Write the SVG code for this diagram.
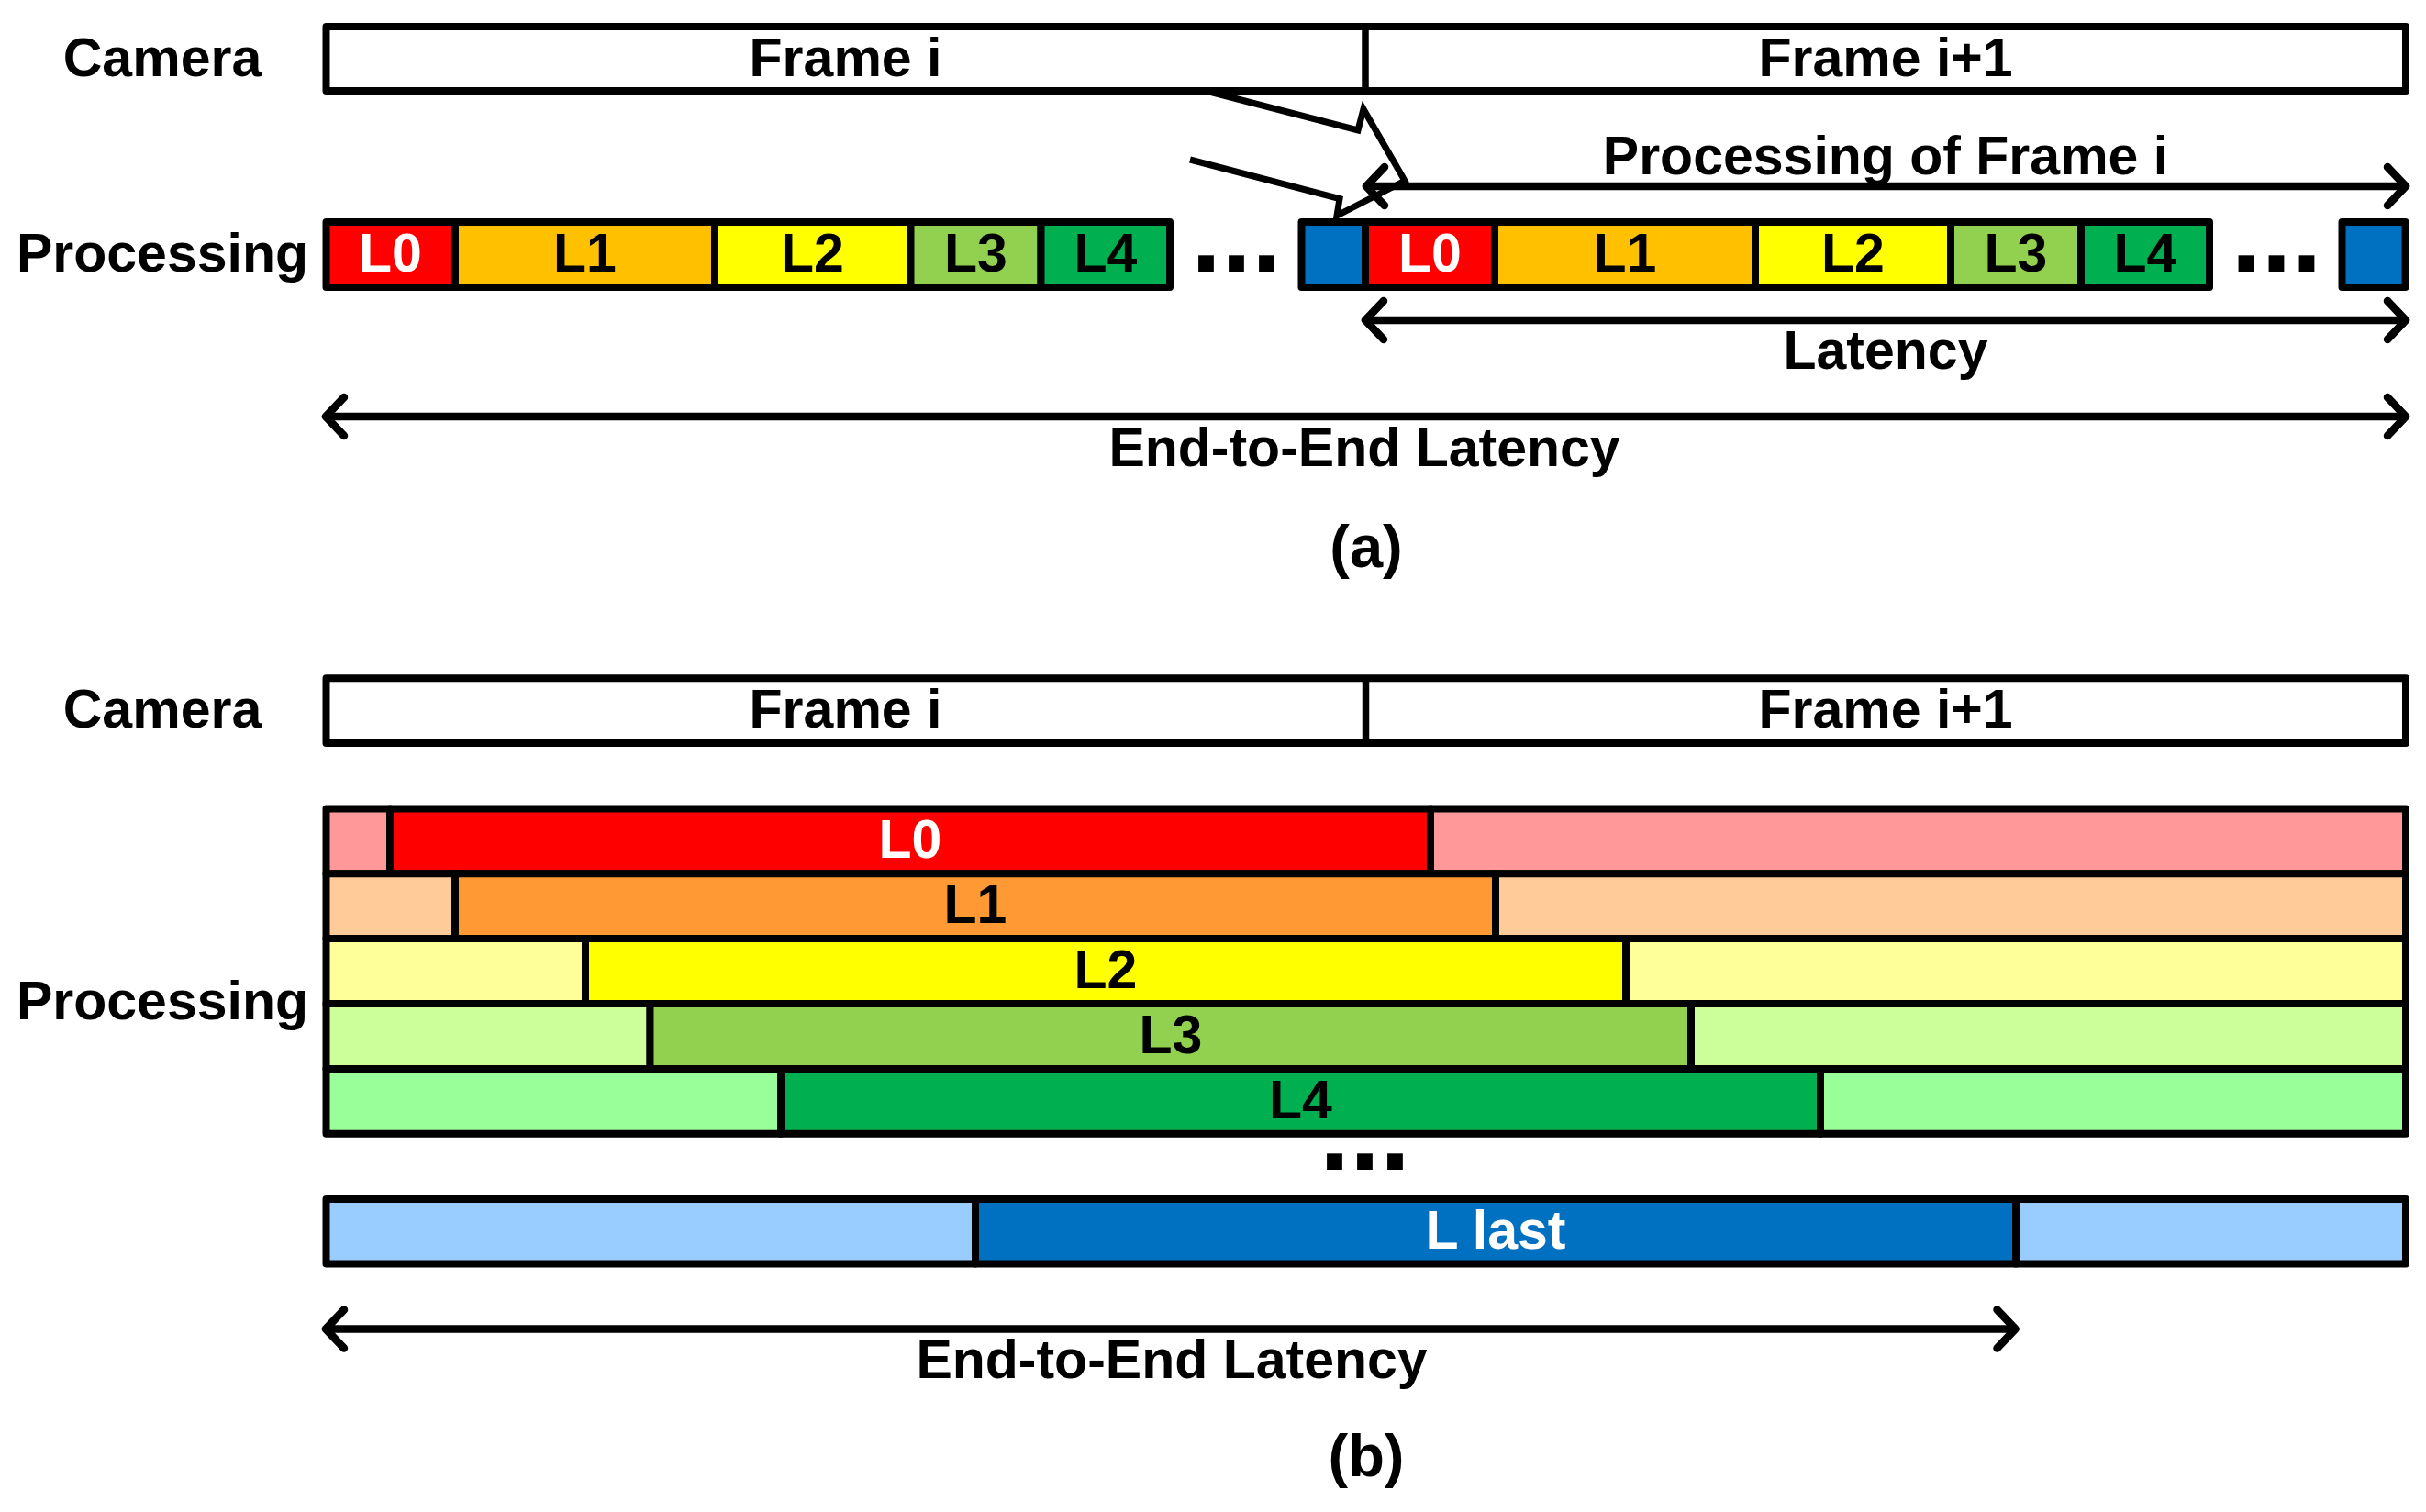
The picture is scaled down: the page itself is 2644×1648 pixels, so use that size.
<svg xmlns="http://www.w3.org/2000/svg" width="2644" height="1648" viewBox="0 0 2644 1648">
<style>
text{font-family:"Liberation Sans",Arial,sans-serif;font-weight:bold;font-size:59px;fill:#000;text-anchor:middle}
.w{fill:#fff}
.dots{font-size:119px}
.cap{font-size:65px}
.c{stroke:#000;stroke-width:8;stroke-linejoin:round}
.dv{stroke:#000;stroke-width:7.5}
.arr{fill:none;stroke:#000;stroke-width:8.5;marker-start:url(#ah);marker-end:url(#ah)}
.bolt{fill:none;stroke:#000;stroke-width:7;stroke-linejoin:miter;stroke-miterlimit:10}
</style>
<defs>
<marker id="ah" markerUnits="userSpaceOnUse" orient="auto-start-reverse" viewBox="-40 -40 50 80" refX="0" refY="0" markerWidth="50" markerHeight="80">
<path d="M-20,-21 L0,0 L-20,21" fill="none" stroke="#000" stroke-width="8.5" stroke-linecap="round" stroke-linejoin="round"/>
</marker>
</defs>
<rect width="2644" height="1648" fill="#fff"/>

<!-- (a) -->
<g id="a-camera-label"><text x="177" y="83">Camera</text></g>
<g id="a-camera">
<rect class="c" x="355.5" y="29" width="2266.5" height="70" fill="#fff"/>
<line class="dv" x1="1488" y1="29" x2="1488" y2="99"/>
<text x="921.5" y="83">Frame i</text>
<text x="2055" y="83">Frame i+1</text>
</g>
<g id="a-processing-label"><text x="177" y="296">Processing</text></g>
<g id="a-proc-1">
<rect class="c" x="355.5" y="242" width="140.5" height="71" fill="#FF0000"/>
<rect class="c" x="496" y="242" width="283" height="71" fill="#FFC000"/>
<rect class="c" x="779" y="242" width="213.5" height="71" fill="#FFFF00"/>
<rect class="c" x="992.5" y="242" width="142" height="71" fill="#92D050"/>
<rect class="c" x="1134.5" y="242" width="140.5" height="71" fill="#00B050"/>
<text class="w" x="425.5" y="296">L0</text>
<text x="637.5" y="296">L1</text>
<text x="885.5" y="296">L2</text>
<text x="1063.5" y="296">L3</text>
<text x="1205" y="296">L4</text>
</g>
<g id="a-dots-1"><text class="dots" x="1347.5" y="296">...</text></g>
<g id="a-proc-2">
<rect class="c" x="1418.5" y="242" width="69.5" height="71" fill="#0070C0"/>
<rect class="c" x="1488" y="242" width="141" height="71" fill="#FF0000"/>
<rect class="c" x="1629" y="242" width="284" height="71" fill="#FFC000"/>
<rect class="c" x="1913" y="242" width="213" height="71" fill="#FFFF00"/>
<rect class="c" x="2126" y="242" width="142" height="71" fill="#92D050"/>
<rect class="c" x="2268" y="242" width="140" height="71" fill="#00B050"/>
<text class="w" x="1558.5" y="296">L0</text>
<text x="1771" y="296">L1</text>
<text x="2019.5" y="296">L2</text>
<text x="2197" y="296">L3</text>
<text x="2338" y="296">L4</text>
</g>
<g id="a-dots-2"><text class="dots" x="2481" y="296">...</text></g>
<g id="a-proc-last"><rect class="c" x="2552.5" y="242" width="69" height="71" fill="#0070C0"/></g>
<g id="a-labels">
<text x="2055" y="190">Processing of Frame i</text>
<text x="2055" y="402">Latency</text>
<text x="1487" y="508">End-to-End Latency</text>
<text class="cap" x="1489" y="618">(a)</text>
</g>

<!-- (b) -->
<g id="b-camera-label"><text x="177" y="793">Camera</text></g>
<g id="b-camera">
<rect class="c" x="355.5" y="739.3" width="2266.5" height="70.7" fill="#fff"/>
<line class="dv" x1="1488.5" y1="739.3" x2="1488.5" y2="810"/>
<text x="921.5" y="793">Frame i</text>
<text x="2055" y="793">Frame i+1</text>
</g>
<g id="b-processing-label"><text x="177" y="1111">Processing</text></g>
<g id="b-L0">
<rect class="c" x="355.5" y="881.6" width="69.5" height="70.7" fill="#FF9999"/>
<rect class="c" x="425" y="881.6" width="1134" height="70.7" fill="#FF0000"/>
<rect class="c" x="1559" y="881.6" width="1063" height="70.7" fill="#FF9999"/>
<text class="w" x="992" y="935">L0</text>
</g>
<g id="b-L1">
<rect class="c" x="355.5" y="952.3" width="140.5" height="70.7" fill="#FFCC99"/>
<rect class="c" x="496" y="952.3" width="1134" height="70.7" fill="#FF9933"/>
<rect class="c" x="1630" y="952.3" width="992" height="70.7" fill="#FFCC99"/>
<text x="1063" y="1005.5">L1</text>
</g>
<g id="b-L2">
<rect class="c" x="355.5" y="1023" width="282.5" height="71" fill="#FFFF99"/>
<rect class="c" x="638" y="1023" width="1134" height="71" fill="#FFFF00"/>
<rect class="c" x="1772" y="1023" width="850" height="71" fill="#FFFF99"/>
<text x="1205" y="1077">L2</text>
</g>
<g id="b-L3">
<rect class="c" x="355.5" y="1094" width="353" height="71" fill="#CCFF99"/>
<rect class="c" x="708.5" y="1094" width="1134.5" height="71" fill="#92D050"/>
<rect class="c" x="1843" y="1094" width="779" height="71" fill="#CCFF99"/>
<text x="1276" y="1148">L3</text>
</g>
<g id="b-L4">
<rect class="c" x="355.5" y="1165" width="495.5" height="70.7" fill="#99FF99"/>
<rect class="c" x="851" y="1165" width="1133" height="70.7" fill="#00B050"/>
<rect class="c" x="1984" y="1165" width="638" height="70.7" fill="#99FF99"/>
<text x="1417.5" y="1218.6">L4</text>
</g>
<g id="b-dots"><text class="dots" x="1487.5" y="1275">...</text></g>
<g id="b-Llast">
<rect class="c" x="355.5" y="1307" width="707.5" height="70.5" fill="#99CCFF"/>
<rect class="c" x="1063" y="1307" width="1134" height="70.5" fill="#0070C0"/>
<rect class="c" x="2197" y="1307" width="425" height="70.5" fill="#99CCFF"/>
<text class="w" x="1630" y="1361">L last</text>
</g>
<g id="b-labels">
<text x="1277" y="1502">End-to-End Latency</text>
<text class="cap" x="1489" y="1609">(b)</text>
</g>

<!-- connectors -->
<g id="connectors">
<path class="bolt" d="M1318,100 L1480,142 L1486,119 L1531,197 L1457,235 L1460,216.5 L1297,174"/>
<path class="arr" d="M1489,203 L2622,203"/>
<path class="arr" d="M1488,349 L2622,349"/>
<path class="arr" d="M355,454 L2622,454"/>
<path class="arr" d="M355,1448.5 L2196.5,1448.5"/>
</g>
</svg>
